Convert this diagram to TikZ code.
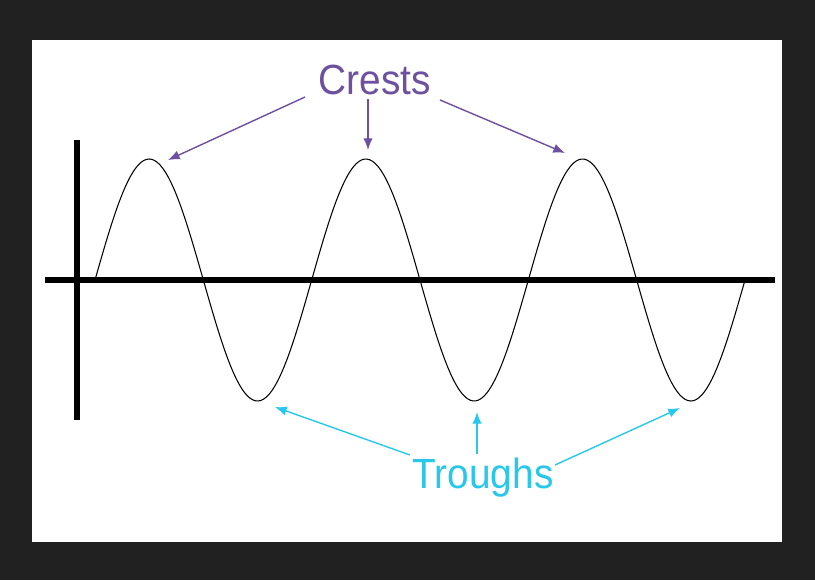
\documentclass[tikz,border=0pt]{standalone}
\usepackage{fontspec}
\setmainfont{Liberation Sans}
\usetikzlibrary{positioning, arrows.meta}
\definecolor{crestcol}{RGB}{110,80,160}
\definecolor{troughcol}{RGB}{40,200,235}
\tikzset{
  every picture/.style={line width=0.75pt},
  axisline/.style={line width=4.5pt},
  wave/.style={line width=0.9pt},
  crestarrow/.style={crestcol, line width=1.2pt, -{Latex[length=10pt, width=8pt]}},
  trougharrow/.style={troughcol, line width=1.2pt, -{Latex[length=10pt, width=8pt]}},
  label/.style={font=\fontsize{36}{36}\selectfont, xscale=0.92}
}
\begin{document}
\begin{tikzpicture}[x=0.03cm, y=-0.03cm]
% frame
\fill[black!87] (0,0) rectangle (815,580);
\fill[white] (32,40) rectangle (782,542);
\useasboundingbox (0,0) rectangle (815,580);

% axes
\draw[axisline] (45,280) -- (775,280);
\draw[axisline] (77,140) -- (77,420);

% wave
\draw[wave, domain=95:745, samples=240, smooth]
  plot (\x, {280 - 121*sin((\x-95)/216.67*360)});

% crests
\node[label, text=crestcol] (crests) at (375,80) {Crests};
\coordinate (c1) at (168,160);
\coordinate (c2) at (368,150);
\coordinate (c3) at (565,153);
\draw[crestarrow] (305,97) -- (c1);
\draw[crestarrow] (crests.south -| c2) -- (c2);
\draw[crestarrow] (440,100) -- (c3);

% troughs
\node[label, text=troughcol] (troughs) at (483,478) {Troughs};
\coordinate (t1) at (275,407);
\coordinate (t2) at (477,412);
\coordinate (t3) at (680,408);
\draw[trougharrow] (410,455) -- (t1);
\draw[trougharrow] (troughs.north -| t2) -- (t2);
\draw[trougharrow] (555,465) -- (t3);
\end{tikzpicture}
\end{document}
